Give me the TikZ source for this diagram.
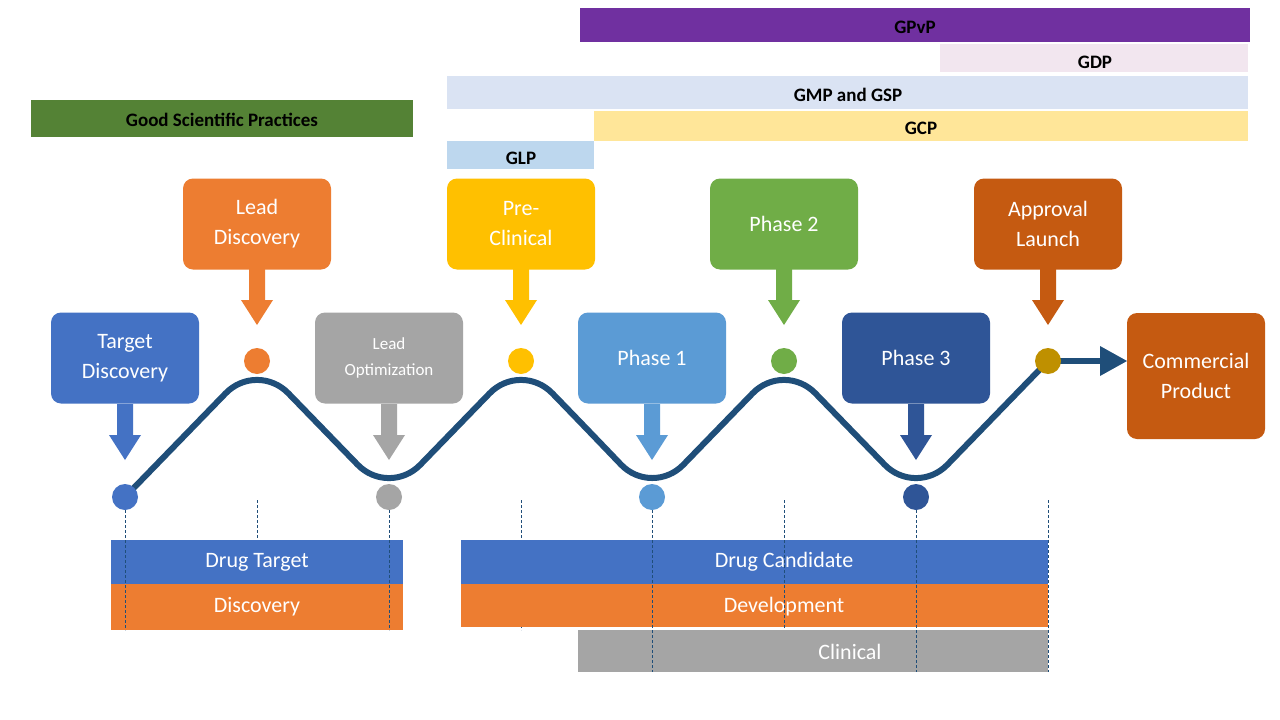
\documentclass[tikz,border=0pt]{standalone}
\usepackage{fontspec}
\setmainfont{Carlito}
\usetikzlibrary{arrows.meta}
\definecolor{cblue}{HTML}{4472C4}
\definecolor{corange}{HTML}{ED7D31}
\definecolor{cgray}{HTML}{A5A5A5}
\definecolor{cyellow}{HTML}{FFC000}
\definecolor{clblue}{HTML}{5B9BD5}
\definecolor{cgreen}{HTML}{70AD47}
\definecolor{cdblue}{HTML}{2F5597}
\definecolor{cbrown}{HTML}{C55A11}
\definecolor{cwave}{HTML}{1F4E79}
\definecolor{cpurple}{HTML}{7030A0}
\definecolor{cgold}{HTML}{BF9000}
\definecolor{cpink}{HTML}{F2E6EF}
\definecolor{cpale}{HTML}{DAE3F3}
\definecolor{cpyel}{HTML}{FFE699}
\definecolor{cglp}{HTML}{BDD7EE}
\definecolor{cdgreen}{HTML}{548235}
\tikzset{
 callout/.style={rounded corners=10pt, minimum width=148pt, minimum height=91pt, text=white, align=center, font=\fontsize{22}{30}\selectfont, inner sep=0pt},
 bar/.style={inner sep=0pt, font=\fontsize{19}{22}\selectfont\bfseries},
 lbar/.style={inner sep=0pt, text=white, font=\fontsize{22}{24}\selectfont},
 dot/.style={circle, minimum size=26pt, inner sep=0pt},
 guide/.style={cwave, densely dashed, line width=0.7pt}
}
\newcommand{\blockarrow}[4]{% x, ytop, ybot, color
 \fill[#4] (#1-8,#2) -- (#1+8,#2) -- (#1+8,#3-25) -- (#1+16,#3-25) -- (#1,#3) -- (#1-16,#3-25) -- (#1-8,#3-25) -- cycle;}
\begin{document}
\begin{tikzpicture}[x=1pt,y=-1pt]
\useasboundingbox[fill=white] (0,0) rectangle (1280,720);
% top bars
\fill[cpurple] (580,8) rectangle (1250,42); \node[bar] (gpvp) at (915,27) {GPvP};
\fill[cpink] (940,44) rectangle (1248,72); \node[bar] (gdp) at (1095,62) {GDP};
\fill[cpale] (447,76) rectangle (1248,109); \node[bar] (gmp) at (848,95) {GMP and GSP};
\fill[cpyel] (594,111) rectangle (1248,141); \node[bar] (gcp) at (921,128) {GCP};
\fill[cglp] (447,141) rectangle (594,169); \node[bar] (glp) at (521,158) {GLP};
\fill[cdgreen] (31,100) rectangle (413,137); \node[bar] (gsp) at (222,120) {Good Scientific Practices};
% guides
\foreach \x/\y in {125/630,257/540,389/630,521/630,652/672,784/672,916/672,1048/672}
 \draw[guide] (\x,500) -- (\x,\y);
% wave
\draw[cwave, line width=6pt, rounded corners=45pt] (125,497) -- (191,429) -- (257,361) -- (323,429) -- (389,497) -- (455,429) -- (521,361) -- (587,429) -- (652,497) -- (718,429) -- (784,361) -- (850,429) -- (916,497) -- (982,429) -- (1048,361);
\draw[cwave, line width=6pt] (1048,361) -- (1100,361);
\fill[cwave] (1100,346) -- (1127,361) -- (1100,376) -- cycle;
% dots
\node[dot, fill=cblue] (d1) at (125,497) {};
\node[dot, fill=corange] (d2) at (257,361) {};
\node[dot, fill=cgray] (d3) at (389,497) {};
\node[dot, fill=cyellow] (d4) at (521,361) {};
\node[dot, fill=clblue] (d5) at (652,497) {};
\node[dot, fill=cgreen] (d6) at (784,361) {};
\node[dot, fill=cdblue] (d7) at (916,497) {};
\node[dot, fill=cgold] (d8) at (1048,361) {};
% callouts
\node[callout, fill=cblue] (c1) at (125,358) {Target\\Discovery};
\blockarrow{125}{404}{460}{cblue}
\node[callout, fill=corange] (c2) at (257,224) {Lead\\Discovery};
\blockarrow{257}{269}{325}{corange}
\node[callout, fill=cgray, font=\fontsize{17}{26}\selectfont] (c3) at (389,358) {Lead\\Optimization};
\blockarrow{389}{404}{460}{cgray}
\node[callout, fill=cyellow] (c4) at (521,224) {Pre-\\Clinical};
\blockarrow{521}{269}{325}{cyellow}
\node[callout, fill=clblue] (c5) at (652,358) {Phase 1};
\blockarrow{652}{404}{460}{clblue}
\node[callout, fill=cgreen] (c6) at (784,224) {Phase 2};
\blockarrow{784}{269}{325}{cgreen}
\node[callout, fill=cdblue] (c7) at (916,358) {Phase 3};
\blockarrow{916}{404}{460}{cdblue}
\node[callout, fill=cbrown] (c8) at (1048,224) {Approval\\Launch};
\blockarrow{1048}{269}{325}{cbrown}
\node[callout, fill=cbrown, minimum width=138pt, minimum height=126pt] (cp) at (1196,376) {Commercial\\Product};
% bottom bars
\fill[cblue] (111,540) rectangle (403,584); \node[lbar] (b1) at (257,562) {Drug Target};
\fill[corange] (111,584) rectangle (403,630); \node[lbar] (b2) at (257,607) {Discovery};
\fill[cblue] (461,540) rectangle (1048,584); \node[lbar] (b3) at (784,562) {Drug Candidate};
\fill[corange] (461,584) rectangle (1048,627); \node[lbar] (b4) at (784,607) {Development};
\fill[cgray] (578,630) rectangle (1048,672); \node[lbar] (b5) at (850,652) {Clinical};
\foreach \x/\y in {125/630,389/630,652/672,784/627,916/672}
 \draw[guide] (\x,540) -- (\x,\y);
\end{tikzpicture}
\end{document}
